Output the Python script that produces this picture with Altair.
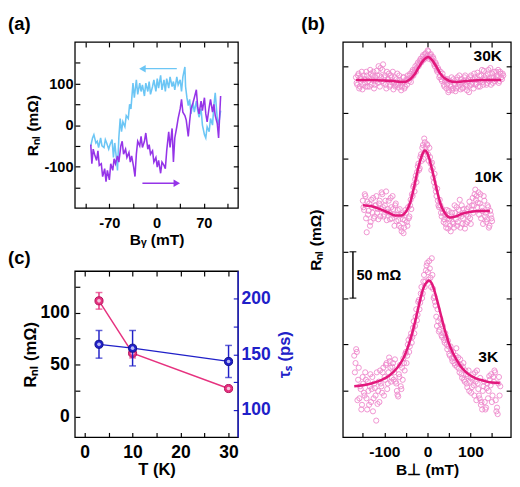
import altair as alt
import pandas as pd

FONT = "Liberation Sans"
C_DOWN = "#6cc6f5"
C_UP = "#9534e8"
C_FIT = "#e2187c"
C_PT = "#ee88cc"
C_PINK = "#e6327f"
C_BLUE = "#2020c8"

# ---------------- panel (a): hysteresis traces ----------------
a_down_B = [-97.6, -95, -93, -90, -88, -86, -83, -81, -78, -76,
            -74, -71, -69, -66, -64, -62, -59, -58, -56, -54,
            -52, -50, -47, -45, -42, -40, -38, -35, -33, -30,
            -28, -25, -23, -21, -18, -16, -13, -11, -9, -6,
            -4, -1, 1, 3, 6, 8, 11, 13, 15, 18,
            20, 23, 25, 27, 30, 32, 35, 37, 39, 42,
            43, 45, 47, 49, 51, 54, 56, 59, 61, 63,
            66, 68, 71, 73, 75, 78, 80, 83, 85, 87,
            90, 92, 95]
a_down_R = [-50, -31, -23, -43, -39, -54, -31, -50, -54, -35,
            -43, -58, -47, -35, -78, -43, -89, -109, -31, 16,
            -16, 8, -4, 23, 16, 50, 39, 101, 66, 109,
            74, 101, 81, 97, 70, 101, 81, 105, 74, 93,
            109, 81, 112, 89, 120, 85, 109, 81, 112, 89,
            116, 93, 105, 85, 116, 97, 109, 81, 116, 140,
            93, 66, 47, 62, 27, 54, 31, 58, 35, 19,
            39, 0, -23, -31, -4, -16, 16, 0, 47, 78,
            16, 0, 35]
a_up_B = [-97.6, -96, -94, -92, -89, -87, -85, -82, -80, -77,
          -75, -73, -70, -68, -65, -63, -61, -58, -56, -53,
          -51, -49, -46, -44, -41, -39, -37, -34, -32, -30,
          -28, -25, -23, -21, -18, -16, -13, -11, -9, -6,
          -4, -1, 1, 3, 6, 8, 11, 13, 15, 18,
          20, 23, 25, 27, 30, 32, 35, 37, 39, 42,
          44, 47, 49, 51, 54, 56, 59, 61, 63, 66,
          68, 71, 73, 75, 78, 80, 83, 85, 87, 90,
          92, 95]
a_up_R = [-47, -93, -58, -70, -85, -62, -97, -93, -124, -105,
          -136, -109, -132, -93, -109, -81, -93, -74, -89, -50,
          -39, -70, -58, -78, -66, -89, -74, -101, -124, -70,
          -39, -50, -27, -54, -39, -19, -58, -47, -70, -62,
          -89, -78, -101, -85, -116, -89, -97, -105, -62, -16,
          -54, -8, -89, -31, -4, 16, 39, 62, 31, 23,
          12, -27, 8, 39, 54, 66, 85, 43, 27, 58,
          35, 66, 27, 8, 43, 62, 31, 50, 23, 4,
          -31, 70]
# sweep-direction arrows: tail, tip, level
arrow_down = [30, -21, 136]
arrow_up = [-21, 30, -140]

# ---------------- panel (b): Hanle curves ----------------
b3_B = list(range(-170, 170, 3))
b3_R = [38, 30, 42, 12, -8, 2, -15, 8, -5, 12,
        -20, 0, 5, -12, 15, -8, 3, -32, -14, 10,
        22, 5, 20, -5, 12, 30, 8, 36, 25, 14,
        30, 20, 10, 0, -6, 15, 5, 25, 35, 22,
        42, 38, 55, 48, 62, 58, 75, 70, 88, 82,
        98, 95, 112, 105, 125, 118, 135, 128, 140, 122,
        143, 110, 102, 92, 70, 75, 66, 72, 58, 62,
        52, 58, 45, 48, 38, 44, 32, 36, 28, 46,
        30, 24, 34, 18, 26, 12, 22, 8, 16, 0,
        14, 4, 18, -5, 10, 22, 2, -8, -15, -20,
        5, -12, -18, 8, 0, 12, 18, -5, 10, 20,
        -22, -25, 15, 5]
b3b_B = [v + 1.5 for v in range(-170, 167, 3)]
b3b_R = [20, 45, -10, 25, 5, -20, 15, -2, 20, -8,
         10, -15, 18, 2, -22, 8, -5, 20, 0, -12,
         8, -2, 25, 15, 28, 2, 20, 32, 10, 26,
         12, 34, 8, -4, 18, 28, 2, 12, 30, 40,
         30, 50, 42, 58, 52, 68, 62, 80, 76, 96,
         88, 105, 100, 118, 112, 130, 138, 120, 132, 112,
         125, 100, 96, 80, 88, 64, 78, 60, 70, 55,
         62, 50, 54, 40, 48, 35, 42, 30, 38, 26,
         36, 20, 28, 14, 30, 10, 18, 4, 22, 10,
         -2, 12, 6, 20, -10, 8, -5, 14, -12, 0,
         10, -20, 3, -8, 16, 6, -12, 15, 22, -10,
         -18, 8, -5]
b10_B = list(range(-150, 151, 3))
b10_R = [205, 195, 210, 171, 190, 202, 182, 198, 208, 188,
         200, 192, 185, 205, 196, 212, 188, 200, 215, 193,
         205, 185, 198, 210, 190, 200, 183, 195, 178, 190,
         172, 185, 176, 195, 182, 198, 188, 206, 212, 220,
         215, 232, 236, 245, 240, 255, 262, 250, 268, 258,
         265, 248, 252, 238, 240, 225, 220, 210, 205, 198,
         200, 188, 192, 185, 180, 195, 175, 185, 172, 192,
         180, 200, 185, 178, 195, 206, 188, 180, 196, 175,
         190, 182, 198, 186, 195, 208, 200, 217, 210, 203,
         190, 212, 198, 180, 205, 192, 185, 198, 178, 190,
         183]
b10b_B = [v + 1.5 for v in range(-150, 148, 3)]
b10b_R = [198, 212, 186, 204, 194, 178, 206, 192, 186, 200,
          210, 196, 202, 188, 214, 198, 190, 205, 184, 196,
          192, 208, 186, 196, 178, 202, 190, 184, 196, 176,
          190, 170, 184, 192, 178, 186, 200, 196, 210, 222,
          228, 225, 242, 238, 252, 248, 265, 272, 262, 266,
          255, 262, 245, 246, 230, 234, 215, 218, 200, 206,
          192, 196, 182, 190, 176, 186, 194, 178, 188, 182,
          176, 192, 198, 182, 190, 176, 200, 186, 192, 180,
          196, 188, 204, 180, 200, 192, 212, 206, 198, 214,
          202, 186, 194, 210, 188, 182, 200, 176, 194, 186]
b30_B = list(range(-166, 177, 3))
b30_R = [338, 330, 342, 328, 336, 325, 340, 332, 344, 328,
         337, 346, 330, 340, 326, 338, 345, 332, 340, 348,
         334, 352, 338, 330, 344, 336, 328, 340, 333, 325,
         338, 330, 342, 327, 335, 324, 332, 338, 328, 336,
         340, 334, 342, 338, 346, 343, 350, 348, 354, 352,
         358, 356, 362, 358, 364, 361, 366, 360, 363, 356,
         358, 350, 352, 344, 346, 340, 336, 342, 330, 334,
         326, 336, 324, 330, 338, 326, 332, 323, 335, 328,
         340, 325, 333, 327, 338, 330, 324, 336, 329, 340,
         332, 326, 338, 331, 343, 335, 328, 340, 333, 345,
         336, 330, 342, 334, 348, 338, 332, 344, 336, 340,
         346, 334, 342, 336, 340]
b30b_B = [v + 1.5 for v in range(-166, 174, 3)]
b30b_R = [332, 340, 326, 338, 344, 330, 336, 328, 340, 334,
          328, 342, 336, 344, 330, 334, 340, 350, 328, 338,
          346, 332, 340, 326, 336, 342, 330, 338, 344, 332,
          328, 336, 330, 340, 333, 328, 338, 326, 334, 330,
          336, 340, 333, 344, 340, 346, 344, 352, 350, 356,
          354, 360, 357, 363, 360, 367, 358, 362, 358, 360,
          352, 354, 346, 348, 338, 344, 334, 338, 328, 336,
          330, 322, 334, 328, 324, 336, 330, 326, 338, 332,
          330, 336, 326, 334, 340, 328, 334, 322, 338, 330,
          336, 342, 330, 336, 328, 340, 334, 346, 330, 338,
          340, 332, 346, 336, 330, 342, 338, 334, 344, 338,
          332, 344, 338, 342]
fit3_B = [-170, -150, -130, -110, -90, -70, -55, -40, -30, -20, -10, 0, 3, 10, 20, 30, 40, 50, 60, 75, 90, 110, 130, 150, 168]
fit3_R = [5, 6, 8, 11, 16, 25, 36, 55, 72, 92, 110, 118, 119, 116, 102, 84, 66, 51, 40, 28, 20, 14, 11, 9, 8.6]
fit10_B = [-150, -130, -110, -90, -75, -62, -50, -40, -30, -20, -10, -6, 0, 10, 20, 30, 40, 52, 65, 80, 100, 120, 145]
fit10_R = [200, 199, 196, 192, 189, 189, 193, 203, 222, 243, 257, 259, 256, 240, 220, 202, 192, 187, 188, 191, 193, 194, 194]
fit30_B = [-166, -130, -100, -80, -57, -40, -30, -20, -10, 2, 10, 20, 30, 40, 63, 90, 130, 171]
fit30_R = [335, 335, 334.5, 334, 333, 336, 341, 349, 356, 360, 357, 350, 342, 337, 333, 334, 335, 335]
temp_labels = ["30K", "10K", "3K"]
temp_label_B = [173, 175, 164]
temp_label_R = [361, 230, 36]
scalebar = [-173, 100, 150]  # B position, bottom, top (50 mOhm)
scalebar_text = "50 mΩ"

# ---------------- panel (c): temperature dependence ----------------
T_K = [3, 10, 30]
Rnl_c = [111.5, 61, 27]
Rnl_err = [8, 4.5, 1.5]
tau_s = [159, 155.5, 143.5]
tau_err = [12.5, 16, 14.5]


def lab(mod):
    return f"datum.value % {mod} == 0 ? '' + datum.value : ''"


def axis(values, mod=None, orient="bottom", title=None, labels=True, color="black",
         size=15, tsize=16, lpad=2, tpad=4, tangle=None):
    kw = dict(orient=orient, values=values, offset=-5, tickSize=5, tickWidth=1.2,
              domain=False, grid=False, tickColor=color, labelColor=color,
              titleColor=color, labelFont=FONT, titleFont=FONT,
              labelFontSize=size, titleFontSize=tsize, labelFontWeight="bold",
              titleFontWeight="bold", labelPadding=lpad, titlePadding=tpad,
              labels=labels, title=title)
    if mod is not None:
        kw["labelExpr"] = lab(mod)
    if tangle is not None:
        kw["titleAngle"] = tangle
    return alt.Axis(**kw)


def ptitle(text, dx, offset):
    return alt.TitleParams(text, anchor="start", frame="group", dx=dx, offset=offset,
                           fontSize=19, font=FONT, fontWeight="bold")


ONE = pd.DataFrame({"f": [0]})


def frame():
    return alt.Chart(ONE).mark_rect(fillOpacity=0, stroke="black", strokeWidth=1.3).encode(
        x=alt.value(0), x2=alt.value("width"), y=alt.value(0), y2=alt.value("height"))


# ---- panel (a) ----
df_down = pd.DataFrame({"B": a_down_B, "R": a_down_R})
df_down["i"] = range(len(df_down))
df_up = pd.DataFrame({"B": a_up_B, "R": a_up_R})
df_up["i"] = range(len(df_up))
df_ar_d = pd.DataFrame({"B": [arrow_down[0]], "B2": [arrow_down[1]], "R": [arrow_down[2]]})
df_hd_d = pd.DataFrame({"B": [arrow_down[1]], "R": [arrow_down[2]]})
df_ar_u = pd.DataFrame({"B": [arrow_up[0]], "B2": [arrow_up[1]], "R": [arrow_up[2]]})
df_hd_u = pd.DataFrame({"B": [arrow_up[1]], "R": [arrow_up[2]]})

sx_a = alt.Scale(domain=[-121, 121], nice=False, zero=False)
sy_a = alt.Scale(domain=[-200, 200], nice=False, zero=False)
xv_a = list(range(-105, 106, 35))
yv_a = list(range(-150, 151, 50))
xa = alt.X("B:Q", scale=sx_a, axis=axis(xv_a, 70, title="Bᵧ (mT)", tpad=1, lpad=8))
ya = alt.Y("R:Q", scale=sy_a, axis=axis(yv_a, 100, orient="left", title="Rₙₗ (mΩ)", tpad=4))

a_main = alt.layer(
    alt.Chart(df_down).mark_line(color=C_DOWN, strokeWidth=1.6).encode(x=xa, y=ya, order="i:Q"),
    alt.Chart(df_up).mark_line(color=C_UP, strokeWidth=1.6).encode(x=xa, y=ya, order="i:Q"),
    alt.Chart(df_ar_d).mark_rule(color=C_DOWN, strokeWidth=1.5).encode(x=xa, x2="B2:Q", y=ya),
    alt.Chart(df_hd_d).mark_point(shape="triangle-left", filled=True, size=60, color=C_DOWN, opacity=1).encode(x=xa, y=ya),
    alt.Chart(df_ar_u).mark_rule(color=C_UP, strokeWidth=1.5).encode(x=xa, x2="B2:Q", y=ya),
    alt.Chart(df_hd_u).mark_point(shape="triangle-right", filled=True, size=60, color=C_UP, opacity=1).encode(x=xa, y=ya),
    frame(),
)
a_ticks = alt.Chart(df_down).mark_line(opacity=0).encode(
    x=alt.X("B:Q", scale=sx_a, axis=axis(xv_a, orient="top", labels=False)),
    y=alt.Y("R:Q", scale=sy_a, axis=axis(yv_a, orient="right", labels=False)),
)
panel_a = alt.layer(a_main, a_ticks).resolve_axis(x="independent", y="independent").properties(
    width=168, height=171, title=ptitle("(a)", -69, 8))

# ---- panel (b) ----
df_sc = pd.DataFrame({"B": b3_B + b3b_B + b10_B + b10b_B + b30_B + b30b_B,
                      "R": b3_R + b3b_R + b10_R + b10b_R + b30_R + b30b_R})
df_fit = pd.concat([
    pd.DataFrame({"B": fit3_B, "R": fit3_R, "T": "3K"}),
    pd.DataFrame({"B": fit10_B, "R": fit10_R, "T": "10K"}),
    pd.DataFrame({"B": fit30_B, "R": fit30_R, "T": "30K"}),
])
df_tl = pd.DataFrame({"B": temp_label_B, "R": temp_label_R, "t": temp_labels})
df_sb = pd.DataFrame({"B": [scalebar[0]], "R": [scalebar[1]], "R2": [scalebar[2]]})
df_sbc = pd.DataFrame({"B": [scalebar[0], scalebar[0]], "R": [scalebar[1], scalebar[2]]})
df_sbt = pd.DataFrame({"B": [scalebar[0] + 8], "R": [(scalebar[1] + scalebar[2]) / 2], "t": [scalebar_text]})

sx_b = alt.Scale(domain=[-196, 194], nice=False, zero=False)
sy_b = alt.Scale(domain=[-50, 376], nice=False, zero=False)
xv_b = list(range(-150, 151, 50))
yv_b = list(range(0, 351, 50))
xb = alt.X("B:Q", scale=sx_b, axis=axis(xv_b, 100, title="B⊥ (mT)", size=16, tpad=2, lpad=7))
yb = alt.Y("R:Q", scale=sy_b, axis=axis(yv_b, orient="left", labels=False, title="Rₙₗ (mΩ)", tpad=20))

b_main = alt.layer(
    alt.Chart(df_sc).mark_point(shape="circle", filled=False, size=28, color=C_PT, strokeWidth=1, opacity=0.9).encode(x=xb, y=yb),
    alt.Chart(df_fit).mark_line(color=C_FIT, strokeWidth=2.6, interpolate="monotone").encode(x=xb, y=yb, detail="T:N"),
    alt.Chart(df_sb).mark_rule(color="black", strokeWidth=1.5).encode(x=xb, y=yb, y2="R2:Q"),
    alt.Chart(df_sbc).mark_tick(orient="horizontal", size=7, thickness=1.5, color="black").encode(x=xb, y=yb),
    alt.Chart(df_sbt).mark_text(align="left", baseline="middle", font=FONT, fontSize=15, fontWeight="bold").encode(x=xb, y=yb, text="t:N"),
    alt.Chart(df_tl).mark_text(align="right", baseline="middle", font=FONT, fontSize=16, fontWeight="bold").encode(x=xb, y=yb, text="t:N"),
    frame(),
)
b_ticks = alt.Chart(df_sc).mark_point(opacity=0).encode(
    x=alt.X("B:Q", scale=sx_b, axis=axis(xv_b, orient="top", labels=False)),
    y=alt.Y("R:Q", scale=sy_b, axis=axis(yv_b, orient="right", labels=False)),
)
panel_b = alt.layer(b_main, b_ticks).resolve_axis(x="independent", y="independent").properties(
    width=173, height=407, title=ptitle("(b)", -43, 8))

# ---- panel (c) ----
df_c = pd.DataFrame({"T": T_K, "Rnl": Rnl_c, "tau": tau_s})
df_c["Rlo"] = [v - e for v, e in zip(Rnl_c, Rnl_err)]
df_c["Rhi"] = [v + e for v, e in zip(Rnl_c, Rnl_err)]
df_c["tlo"] = [v - e for v, e in zip(tau_s, tau_err)]
df_c["thi"] = [v + e for v, e in zip(tau_s, tau_err)]

sx_c = alt.Scale(domain=[-2, 32], nice=False, zero=False)
sy_cl = alt.Scale(domain=[-20, 140], nice=False, zero=False)
sy_cr = alt.Scale(domain=[75, 225], nice=False, zero=False)
xv_c = list(range(0, 31, 5))
ax_c = axis(xv_c, 10, title="T (K)", size=18, tsize=17, lpad=7, tpad=0)
ax_cl = axis([0, 25, 50, 75, 100, 125], 50, orient="left", title="Rₙₗ (mΩ)", size=18, tsize=17, lpad=6, tpad=1)
ax_cr = axis([100, 125, 150, 175, 200], 50, orient="right", title="τₛ (ps)", size=18, tsize=17,
             lpad=3, tpad=24, color=C_BLUE, tangle=270)
xc = alt.X("T:Q", scale=sx_c, axis=ax_c)
xc_blue = alt.X("T:Q", scale=sx_c, axis=None)

base_c = alt.Chart(df_c)
pink = alt.layer(
    frame(),
    base_c.mark_line(color=C_PINK, strokeWidth=1.5).encode(x=xc, y=alt.Y("Rnl:Q", scale=sy_cl, axis=ax_cl)),
    base_c.mark_rule(color=C_PINK, strokeWidth=1.5).encode(x=xc, y=alt.Y("Rlo:Q", scale=sy_cl, axis=ax_cl), y2="Rhi:Q"),
    base_c.mark_tick(orient="horizontal", size=7, thickness=1.5, color=C_PINK).encode(x=xc, y=alt.Y("Rlo:Q", scale=sy_cl, axis=ax_cl)),
    base_c.mark_tick(orient="horizontal", size=7, thickness=1.5, color=C_PINK).encode(x=xc, y=alt.Y("Rhi:Q", scale=sy_cl, axis=ax_cl)),
    base_c.mark_point(shape="circle", filled=True, size=70, fill=C_PINK, stroke="#b3125c", strokeWidth=1, opacity=1).encode(x=xc, y=alt.Y("Rnl:Q", scale=sy_cl, axis=ax_cl)),
    base_c.mark_point(shape="circle", filled=True, size=14, color="#f7c6de", opacity=1).encode(x=xc, y=alt.Y("Rnl:Q", scale=sy_cl, axis=ax_cl)),
)
blue = alt.layer(
    alt.Chart(ONE).mark_rule(color=C_BLUE, strokeWidth=1.5).encode(
        x=alt.value("width"), y=alt.value(0), y2=alt.value("height")),
    base_c.mark_line(color=C_BLUE, strokeWidth=1.3).encode(x=xc_blue, y=alt.Y("tau:Q", scale=sy_cr, axis=ax_cr)),
    base_c.mark_rule(color=C_BLUE, strokeWidth=1.5).encode(x=xc_blue, y=alt.Y("tlo:Q", scale=sy_cr, axis=ax_cr), y2="thi:Q"),
    base_c.mark_tick(orient="horizontal", size=7, thickness=1.5, color=C_BLUE).encode(x=xc_blue, y=alt.Y("tlo:Q", scale=sy_cr, axis=ax_cr)),
    base_c.mark_tick(orient="horizontal", size=7, thickness=1.5, color=C_BLUE).encode(x=xc_blue, y=alt.Y("thi:Q", scale=sy_cr, axis=ax_cr)),
    base_c.mark_point(shape="circle", filled=True, size=70, fill=C_BLUE, stroke="#10108a", strokeWidth=1, opacity=1).encode(x=xc_blue, y=alt.Y("tau:Q", scale=sy_cr, axis=ax_cr)),
    base_c.mark_point(shape="circle", filled=True, size=14, color="#b8b8f4", opacity=1).encode(x=xc_blue, y=alt.Y("tau:Q", scale=sy_cr, axis=ax_cr)),
)
c_ticks = base_c.mark_point(opacity=0).encode(
    x=alt.X("T:Q", scale=sx_c, axis=axis(xv_c, orient="top", labels=False)))
panel_c = alt.layer(pink, blue, c_ticks).resolve_scale(y="independent").resolve_axis(x="independent").properties(
    width=168, height=171, title=ptitle("(c)", -69, 3))

left = alt.vconcat(panel_a, panel_c, spacing=65, bounds="flush")
chart = alt.hconcat(left, panel_b, spacing=8, padding=0).configure(
    font=FONT, view=alt.ViewConfig(strokeWidth=0)
)

chart.save("out.html", embed_options={"renderer": "svg", "actions": False})
